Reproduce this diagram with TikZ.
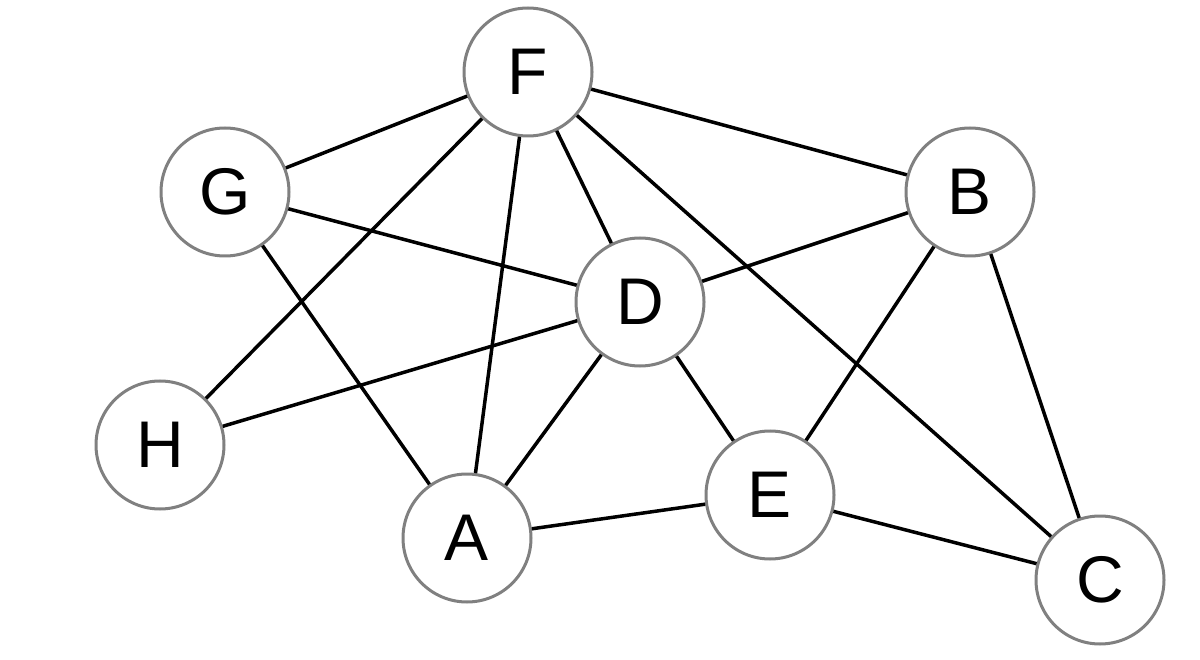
\documentclass[tikz,border=0pt]{standalone}
\usepackage{fontspec}
\setmainfont{Liberation Sans}
\begin{document}
\begin{tikzpicture}[x=1pt,y=-1pt,
  vert/.style={circle,draw=black!50,line width=3pt,fill=white,minimum size=128pt,inner sep=0pt,font=\fontsize{66}{66}\selectfont},
  edge/.style={line width=3.5pt,black}]
\useasboundingbox (0,0) rectangle (1200,660);
\node[vert] (F) at (528,72) {F};
\node[vert] (G) at (225,192) {G};
\node[vert] (B) at (970,192) {B};
\node[vert] (D) at (640,302) {D};
\node[vert] (H) at (160,445) {H};
\node[vert] (A) at (467,538) {A};
\node[vert] (E) at (770,495) {E};
\node[vert] (C) at (1100,580) {C};
\begin{scope}[on background layer/.try]
\end{scope}
\foreach \a/\b in {F/G,F/H,F/A,F/D,F/C,F/B,G/D,G/A,B/D,B/E,B/C,D/H,D/A,D/E,A/E,E/C}
  \draw[edge] (\a) -- (\b);
\end{tikzpicture}
\end{document}
